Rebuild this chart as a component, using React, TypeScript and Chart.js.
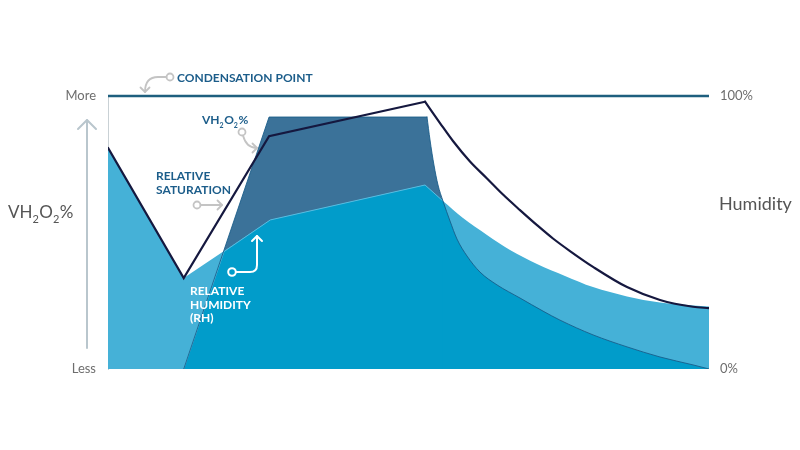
import React, { useEffect, useRef } from "react";
import { Chart, registerables } from "chart.js";

Chart.register(...registerables);

// ---- data (x: process time 0..100, y: 0..100 %) ----
// Relative saturation (line): straight rise, then curved decay
const satRiseX = [0, 12.6, 26.8, 52.75];
const satRiseY = [81.0, 33.3, 85.3, 97.9];
const satDecayX = [52.75, 55.24, 57.40, 60.23, 63.06, 65.72, 68.55, 71.38, 74.04, 76.87, 80.70, 86.36, 91.85, 97.34, 100];
const satDecayY = [97.9, 90.1, 83.5, 76.0, 69.8, 63.9, 58.2, 52.7, 47.8, 43.2, 37.4, 30.0, 25.3, 22.8, 22.3];

// Light area (relative saturation level of the air)
const lightRiseX = [0, 12.6, 27.0, 52.75];
const lightRiseY = [81.0, 33.3, 54.6, 67.4];
const lightDecayX = [52.75, 55.74, 59.07, 63.06, 66.89, 71.38, 76.04, 80.70, 86.36, 91.85, 97.34, 100];
const lightDecayY = [67.4, 61.5, 55.3, 49.1, 43.6, 38.5, 34.1, 30.0, 26.6, 24.4, 23.3, 22.9];

// VH2O2% area
const vhRiseX = [12.6, 26.8, 53.08];
const vhRiseY = [0, 92.3, 92.3];
const vhDecayX = [53.08, 53.58, 54.24, 54.91, 55.74, 56.91, 58.07, 59.73, 61.90, 64.73, 68.55, 72.38, 75.21, 80.70, 86.36, 91.85, 97.34, 100];
const vhDecayY = [92.3, 83.9, 74.7, 67.4, 61.5, 54.2, 47.6, 41.4, 35.5, 30.8, 26.0, 21.2, 17.9, 12.5, 8.1, 4.4, 1.5, 0];

// Relative humidity (RH) area (overlap)
const rhRiseX = [12.6, 19.3, 27.0, 52.75, 55.74];
const rhRiseY = [0, 43.0, 54.6, 67.4, 61.5];
const rhDecayX = [55.74, 56.91, 58.07, 59.73, 61.90, 64.73, 68.55, 72.38, 75.21, 80.70, 86.36, 91.85, 97.34, 100];
const rhDecayY = [61.5, 54.2, 47.6, 41.4, 35.5, 30.8, 26.0, 21.2, 17.9, 12.5, 8.1, 4.4, 1.5, 0];

const condX = [0, 100];
const condY = [100, 100];

const leftTicks = ["Less", "More"];
const rightTicks = ["0%", "100%"];

const pts = (xs: number[], ys: number[]) => xs.map((x, i) => ({ x, y: ys[i] }));

const FONT = "Lato, 'Noto Sans', sans-serif";

type Part = { t: string; sub?: boolean };

function drawRich(ctx: CanvasRenderingContext2D, parts: Part[], x: number, y: number, size: number, weight: string, color: string) {
  let cx = x;
  ctx.fillStyle = color;
  ctx.textBaseline = "alphabetic";
  ctx.textAlign = "left";
  for (const p of parts) {
    const s = p.sub ? Math.round(size * 0.62) : size;
    ctx.font = `${weight} ${s}px ${FONT}`;
    ctx.fillText(p.t, cx, p.sub ? y + size * 0.3 : y);
    cx += ctx.measureText(p.t).width + (p.sub ? 0.5 : 0);
  }
}

function arrowHead(ctx: CanvasRenderingContext2D, tx: number, ty: number, dir: "up" | "down" | "right", s = 5) {
  ctx.beginPath();
  if (dir === "up") { ctx.moveTo(tx - s, ty + s); ctx.lineTo(tx, ty); ctx.lineTo(tx + s, ty + s); }
  if (dir === "down") { ctx.moveTo(tx - s, ty - s); ctx.lineTo(tx, ty); ctx.lineTo(tx + s, ty - s); }
  if (dir === "right") { ctx.moveTo(tx - s, ty - s); ctx.lineTo(tx, ty); ctx.lineTo(tx - s, ty + s); }
  ctx.stroke();
}

const annotate = {
  id: "annotate",
  afterDraw(chart: any) {
    const ctx: CanvasRenderingContext2D = chart.ctx;
    const { left, top, right } = chart.chartArea;
    const X = (px: number) => left + (px - 108);
    const Y = (py: number) => top + (py - 96);
    ctx.save();
    ctx.lineCap = "round";
    ctx.lineJoin = "round";

    // left arrow (More/Less)
    ctx.strokeStyle = "#b9c6cd";
    ctx.lineWidth = 2;
    ctx.beginPath();
    ctx.moveTo(X(87), Y(348));
    ctx.lineTo(X(87), Y(120));
    ctx.stroke();
    arrowHead(ctx, X(87), Y(120), "up", 9);

    // axis titles
    drawRich(ctx, [{ t: "VH" }, { t: "2", sub: true }, { t: "O" }, { t: "2", sub: true }, { t: "%" }], 8, Y(218), 17, "400", "#555555");
    drawRich(ctx, [{ t: "Humidity" }], right + 10, Y(210), 18, "400", "#555555");

    const TEAL = "#1c5d8a";
    const GRAY = "#c4c4c4";
    const LS = 12;

    // condensation point
    drawRich(ctx, [{ t: "CONDENSATION POINT" }], X(177), Y(82), LS, "700", TEAL);
    ctx.strokeStyle = GRAY;
    ctx.lineWidth = 1.8;
    ctx.beginPath();
    ctx.arc(X(170), Y(77), 3.5, 0, Math.PI * 2);
    ctx.stroke();
    ctx.beginPath();
    ctx.moveTo(X(166.5), Y(77));
    ctx.lineTo(X(158), Y(77));
    ctx.bezierCurveTo(X(150), Y(77), X(145), Y(81), X(145), Y(92));
    ctx.stroke();
    arrowHead(ctx, X(145), Y(92), "down", 4.5);

    // VH2O2% label
    drawRich(ctx, [{ t: "VH" }, { t: "2", sub: true }, { t: "O" }, { t: "2", sub: true }, { t: "%" }], X(202), Y(124), LS, "700", TEAL);
    ctx.beginPath();
    ctx.arc(X(242), Y(132), 3.5, 0, Math.PI * 2);
    ctx.stroke();
    ctx.beginPath();
    ctx.moveTo(X(243), Y(135.5));
    ctx.bezierCurveTo(X(245), Y(143), X(249), Y(148), X(257), Y(148));
    ctx.stroke();
    arrowHead(ctx, X(257), Y(148), "right", 4.5);

    // relative saturation label
    drawRich(ctx, [{ t: "RELATIVE" }], X(156), Y(180), LS, "700", TEAL);
    drawRich(ctx, [{ t: "SATURATION" }], X(156), Y(193.5), LS, "700", TEAL);
    ctx.beginPath();
    ctx.arc(X(197), Y(205), 3.5, 0, Math.PI * 2);
    ctx.stroke();
    ctx.beginPath();
    ctx.moveTo(X(200.5), Y(205));
    ctx.lineTo(X(222), Y(205));
    ctx.stroke();
    arrowHead(ctx, X(222), Y(205), "right", 4.5);

    // relative humidity label (white)
    drawRich(ctx, [{ t: "RELATIVE" }], X(190), Y(294.5), LS, "700", "#ffffff");
    drawRich(ctx, [{ t: "HUMIDITY" }], X(190), Y(308.5), LS, "700", "#ffffff");
    drawRich(ctx, [{ t: "(RH)" }], X(190), Y(321.5), LS, "700", "#ffffff");
    ctx.strokeStyle = "#ffffff";
    ctx.lineWidth = 2;
    ctx.beginPath();
    ctx.arc(X(232), Y(272), 3.8, 0, Math.PI * 2);
    ctx.stroke();
    ctx.beginPath();
    ctx.moveTo(X(236), Y(272));
    ctx.lineTo(X(250), Y(272));
    ctx.quadraticCurveTo(X(257), Y(272), X(257), Y(265));
    ctx.lineTo(X(257), Y(236));
    ctx.stroke();
    arrowHead(ctx, X(257), Y(236), "up", 5);

    ctx.restore();
  },
};

const C_NAVY = "#15183f";
const C_COND = "#1e5f7e";
const C_EDGE = "rgba(22,90,135,0.85)";
const C_RH = "#019cca";
const C_RH_TOP = "#58bce0";
const C_LIGHT = "#45b1d7";
const C_VH = "#3b7299";

function lineDs(label: string, xs: number[], ys: number[], color: string, width: number, order: number, curved: boolean) {
  return {
    label,
    data: pts(xs, ys),
    borderColor: color,
    borderWidth: width,
    borderCapStyle: "round",
    fill: false,
    pointRadius: 0,
    tension: 0,
    cubicInterpolationMode: curved ? "monotone" : "default",
    order,
  };
}

function areaDs(label: string, xs: number[], ys: number[], color: string, order: number, curved: boolean, border = 0, borderColor = "transparent") {
  return {
    label,
    data: pts(xs, ys),
    backgroundColor: color,
    borderColor,
    borderWidth: border,
    fill: "origin",
    pointRadius: 0,
    tension: 0,
    cubicInterpolationMode: curved ? "monotone" : "default",
    order,
  };
}

export default function App() {
  const ref = useRef<HTMLCanvasElement | null>(null);

  useEffect(() => {
    if (!ref.current) return;
    const fixTicks = (s: any) => {
      s.ticks = [{ value: 0 }, { value: 100 }];
    };
    const chart = new Chart(ref.current, {
      type: "line",
      data: {
        datasets: [
          lineDs("Relative saturation", satRiseX, satRiseY, C_NAVY, 2.2, 0, false),
          lineDs("Relative saturation (decay)", satDecayX, satDecayY, C_NAVY, 2.2, 0, true),
          { ...lineDs("Condensation point", condX, condY, C_COND, 2.5, 1, false), borderCapStyle: "butt", clip: 4 },
          lineDs("VH2O2% edge", vhRiseX, vhRiseY, C_EDGE, 1, 2, false),
          lineDs("VH2O2% edge (decay)", vhDecayX, vhDecayY, C_EDGE, 1, 2, true),
          areaDs("Relative humidity (RH)", rhRiseX, rhRiseY, C_RH, 3, false, 1, C_RH_TOP),
          areaDs("Relative humidity (RH) decay", rhDecayX, rhDecayY, C_RH, 3, true),
          areaDs("Saturation area", lightRiseX, lightRiseY, C_LIGHT, 4, false),
          areaDs("Saturation area (decay)", lightDecayX, lightDecayY, C_LIGHT, 4, true),
          areaDs("VH2O2%", vhRiseX, vhRiseY, C_VH, 5, false),
          areaDs("VH2O2% (decay)", vhDecayX, vhDecayY, C_VH, 5, true),
        ],
      },
      options: {
        animation: false,
        responsive: false,
        layout: { padding: { left: 8, right: 0, top: 96, bottom: 81 } },
        plugins: { legend: { display: false }, tooltip: { enabled: false } },
        scales: {
          x: { type: "linear", min: 0, max: 100, display: false },
          y: {
            position: "left",
            min: 0,
            max: 100,
            grid: { display: false, drawTicks: false },
            border: { display: true, color: "#c9d1d5", width: 1 },
            afterBuildTicks: fixTicks,
            afterFit: (s: any) => { s.width = 100; },
            ticks: {
              padding: 12,
              color: "#6e6e6e",
              font: { family: FONT, size: 13 },
              callback: (v: any) => (v === 100 ? leftTicks[1] : v === 0 ? leftTicks[0] : ""),
            },
          },
          y2: {
            position: "right",
            min: 0,
            max: 100,
            grid: { display: false, drawTicks: false },
            border: { display: false },
            afterBuildTicks: fixTicks,
            afterFit: (s: any) => { s.width = 91; },
            ticks: {
              padding: 11,
              color: "#6e6e6e",
              font: { family: FONT, size: 13 },
              callback: (v: any) => (v === 100 ? rightTicks[1] : v === 0 ? rightTicks[0] : ""),
            },
          },
        },
      },
      plugins: [annotate],
    } as any);
    return () => chart.destroy();
  }, []);

  return (
    <div style={{ position: "absolute", left: 0, top: 0, width: 800, height: 450, background: "#fff" }}>
      <canvas ref={ref} width={800} height={450} style={{ width: 800, height: 450 }} />
    </div>
  );
}
